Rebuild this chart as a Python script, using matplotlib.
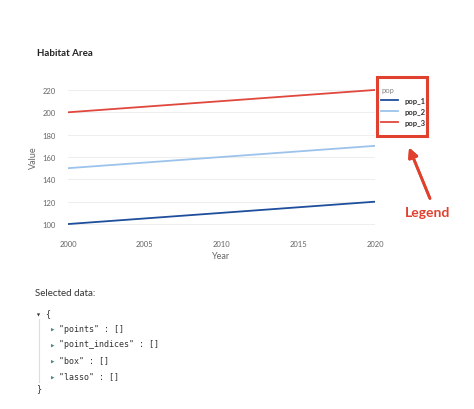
import matplotlib.pyplot as plt
from matplotlib.patches import Rectangle

years = [2000, 2020]
pop_1 = [100, 120]
pop_2 = [150, 170]
pop_3 = [200, 220]
series_names = ['pop_1', 'pop_2', 'pop_3']
colors = ['#1f4e9c', '#9cc3ec', '#e0483e']
json_keys = ['"points"', '"point_indices"', '"box"', '"lasso"']

W, H = 474, 410
fig = plt.figure(figsize=(W / 100, H / 100), dpi=100)
plt.rcParams['font.family'] = ['Source Sans Pro', 'Lato', 'DejaVu Sans']

ax = fig.add_axes([68 / W, 1 - 228.4 / H, (375 - 68) / W, (228.4 - 87.6) / H])
for vals, name, c in zip([pop_1, pop_2, pop_3], series_names, colors):
    ax.plot(years, vals, color=c, lw=1.3, label=name)
ax.set_xlim(2000, 2020)
ax.set_ylim(97, 223)
ax.set_xticks(range(2000, 2021, 5))
ax.set_yticks(range(100, 221, 20))
ax.grid(axis='y', color='#eeeeee', lw=0.8)
ax.tick_params(length=0, labelsize=5.5, colors='#666666')
ax.tick_params(axis='x', pad=9)
ax.tick_params(axis='y', pad=9)
for s in ax.spines.values():
    s.set_visible(False)
ax.set_xlabel('Year', fontsize=6.5, color='#666666', labelpad=3)
ax.set_ylabel('Value', fontsize=6.5, color='#666666', labelpad=3)

leg = ax.legend(title='pop', loc='upper left', bbox_to_anchor=(376 / W, 1 - 82 / H),
                bbox_transform=fig.transFigure, frameon=False, fontsize=5.5,
                handlelength=2.2, borderpad=0.2, labelspacing=0.5)
leg.get_title().set_fontsize(5.5)
leg.get_title().set_color('#888888')
for t in leg.get_texts():
    t.set_fontweight('bold')
    t.set_color('#333333')
leg._legend_box.align = 'left'

fig.patches.append(Rectangle((377 / W, 1 - 137 / H), 50 / W, 59 / H, transform=fig.transFigure,
                             fill=False, edgecolor='#e0402e', lw=2.2))
fig.add_artist(plt.annotate('', xy=(408 / W, 1 - 146 / H), xytext=(431 / W, 1 - 202 / H),
                            xycoords='figure fraction',
                            arrowprops=dict(arrowstyle='-|>', color='#e0402e', lw=2,
                                            mutation_scale=14)))
fig.text(405 / W, 1 - 213 / H, 'Legend', color='#e0402e', fontsize=10, fontweight='bold', va='center')

fig.text(37 / W, 1 - 53 / H, 'Habitat Area', fontsize=7, fontweight='bold', va='center', color='#222222')
fig.text(35 / W, 1 - 294 / H, 'Selected data:', fontsize=7, va='center', color='#333333')

mono = 'DejaVu Sans Mono'
fig.text(36 / W, 1 - 314 / H, '▾ {', fontsize=6, family=mono, va='center', color='#333333')
for i, key in enumerate(json_keys):
    y = 1 - (329 + i * 16) / H
    fig.text(49 / W, y, '▸', fontsize=6.5, family=mono, va='center', color='#4a8a8a')
    fig.text(59 / W, y, key + ' : []', fontsize=6, family=mono, va='center', color='#333333')
fig.add_artist(plt.Line2D([39 / W, 39 / W], [1 - 320 / H, 1 - 383 / H], color='#dddddd', lw=0.8,
                          transform=fig.transFigure))
fig.text(36 / W, 1 - 389 / H, '}', fontsize=6, family=mono, va='center', color='#333333')

fig.savefig('out.png', dpi=100)
